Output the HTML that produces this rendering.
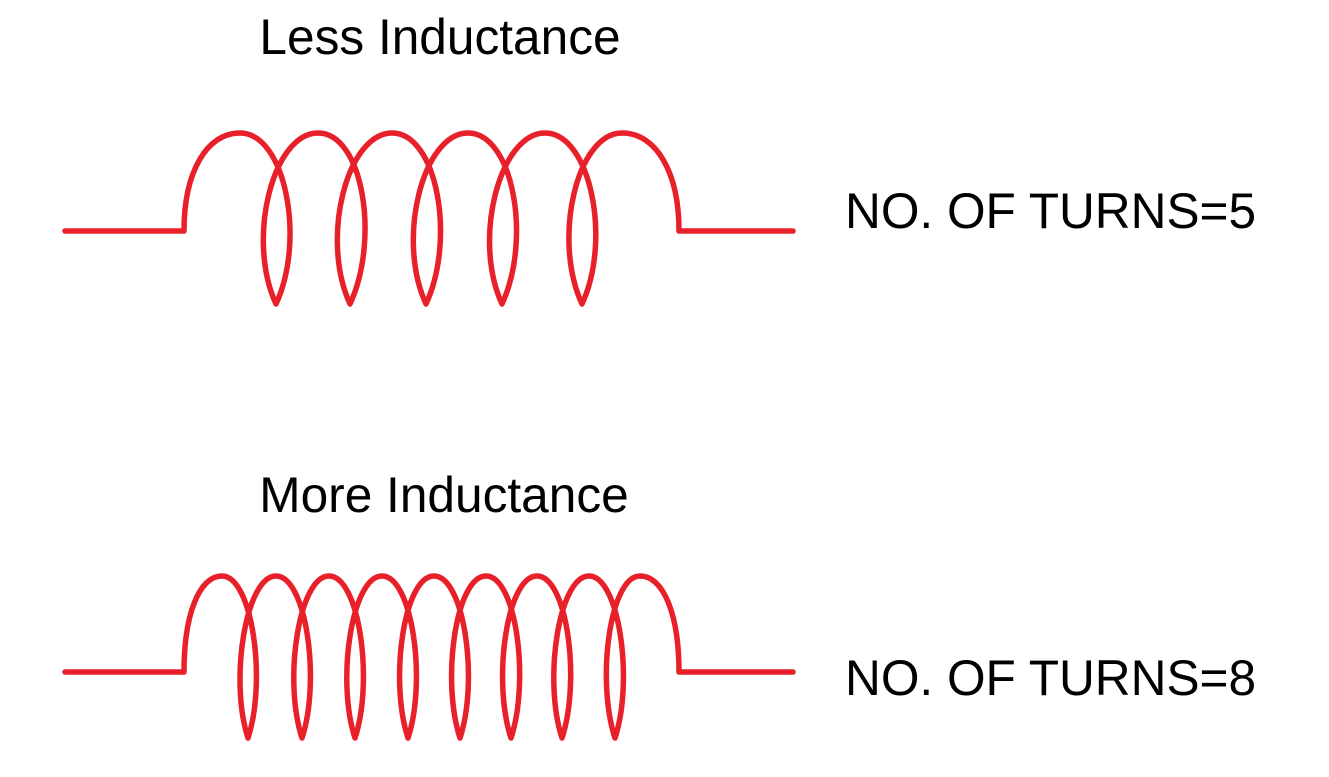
<!DOCTYPE html>
<html><head><meta charset="utf-8"><style>
html,body{margin:0;padding:0;background:#fff;}
svg{display:block}
text{font-family:"Liberation Sans",Arial,sans-serif;font-size:49.6px;fill:#000}
</style></head><body>
<svg id="s" width="1329" height="777" viewBox="0 0 1329 777">
<text x="440" y="54" text-anchor="middle">Less Inductance</text>
<text x="444" y="512" text-anchor="middle">More Inductance</text>
<text x="845" y="228">NO. OF TURNS=5</text>
<text x="845" y="695">NO. OF TURNS=8</text>
<path id="p1" fill="none" stroke="#e8202a" stroke-width="5.5" stroke-linejoin="round" stroke-linecap="round"/>
<path id="p2" fill="none" stroke="#e8202a" stroke-width="5.5" stroke-linejoin="round" stroke-linecap="round"/>
</svg>
<script>
function coil(x0,x1,xs,xe,wy,ty,by,tops,bots,lw,tc,ec){
  var mid=wy+8;
  var d="M"+x0+","+wy+" H"+xs;
  var F=tops[0],L=tops[tops.length-1];
  d+=" C"+xs+","+(wy-(wy-ty)*0.6)+" "+(F-(F-xs)*0.6)+","+ty+" "+F+","+ty;
  for(var i=0;i<bots.length;i++){
    var T=tops[i],B=bots[i],N=tops[i+1];
    d+=" C"+(T+tc)+","+ty+" "+(B+lw)+","+mid+" "+B+","+by;
    d+=" C"+(B-lw)+","+mid+" "+(N-tc)+","+ty+" "+N+","+ty;
  }
  d+=" C"+(L+(xe-L)*0.6)+","+ty+" "+xe+","+(wy-(wy-ty)*0.6)+" "+xe+","+wy+" H"+x1;
  return d;
}
document.getElementById("p1").setAttribute("d",
  coil(65,793,184,679,231,133,304,[240,318,392,468,545,622],[276,350,426,502,582],30,45));
document.getElementById("p2").setAttribute("d",
  coil(65,793,184,679,672,576,738,[222,276,329,382,434,486,537,589,640],[248,302,355,408,460,511,562,615],19,30));
</script>
</body></html>
